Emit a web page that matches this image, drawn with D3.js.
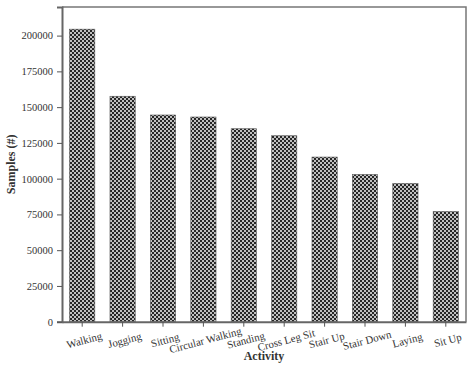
<!DOCTYPE html>
<html>
<head>
<meta charset="utf-8">
<script src="https://cdn.jsdelivr.net/npm/d3@7"></script>
<style>
  body { margin: 0; background: #fff; }
  svg text { font-family: "Liberation Serif", "DejaVu Serif", serif; fill: #333; }
</style>
</head>
<body>
<svg id="chart"></svg>
<script>
const width = 474;
const height = 367;

// activity classes and sample counts
const activities = ["Walking", "Jogging", "Sitting", "Circular Walking", "Standing",
  "Cross Leg Sit", "Stair Up", "Stair Down", "Laying", "Sit Up"];
const samples = [204500, 157600, 144500, 143100, 134900, 130000, 115100, 102900, 96600, 77000];
const yTicks = [0, 25000, 50000, 75000, 100000, 125000, 150000, 175000, 200000];

const margin = { top: 7, right: 10, bottom: 46, left: 62 };

const svg = d3.select("#chart")
  .attr("width", width)
  .attr("height", height);

// checker pattern for the bars
const defs = svg.append("defs");
const pat = defs.append("pattern")
  .attr("id", "checker")
  .attr("patternUnits", "userSpaceOnUse")
  .attr("width", 4)
  .attr("height", 4);
pat.append("rect").attr("width", 4).attr("height", 4).attr("fill", "#c0c0c0");
pat.append("rect").attr("width", 2).attr("height", 2).attr("fill", "#262626");
pat.append("rect").attr("x", 2).attr("y", 2).attr("width", 2).attr("height", 2).attr("fill", "#262626");

const x = d3.scaleBand()
  .domain(activities)
  .range([margin.left, width - margin.right + 2])
  .paddingInner(0.375)
  .paddingOuter(0.1875);

const y = d3.scaleLinear()
  .domain([0, 220000])
  .range([height - margin.bottom + 0.7, margin.top]);

// bars
svg.append("g")
  .selectAll("rect")
  .data(activities)
  .join("rect")
  .attr("x", d => x(d))
  .attr("y", (d, i) => y(samples[i]))
  .attr("width", x.bandwidth())
  .attr("height", (d, i) => y(0) - y(samples[i]))
  .attr("fill", "url(#checker)")
  .attr("stroke", "#555")
  .attr("stroke-width", 0.6);

// frame (top + right)
const x0 = margin.left, x1 = width - margin.right + 2;
svg.append("path")
  .attr("d", `M${x0},${y.range()[1]}H${x1}V${y(0)}`)
  .attr("fill", "none")
  .attr("stroke", "#777")
  .attr("stroke-width", 1.5);

// y axis
const yAxis = svg.append("g")
  .attr("transform", `translate(${x0},0)`)
  .call(d3.axisLeft(y).tickValues(yTicks).tickSize(5).tickPadding(4).tickFormat(d3.format("d")));
yAxis.select(".domain").attr("stroke", "#666").attr("stroke-width", 2);
yAxis.selectAll(".tick line").attr("stroke", "#555");
yAxis.selectAll("text").attr("font-size", 10.5).attr("fill", "#333");

// x axis
const xAxis = svg.append("g")
  .attr("transform", `translate(0,${y(0)})`)
  .call(d3.axisBottom(x).tickSize(5).tickSizeOuter(0));
xAxis.select(".domain").attr("stroke", "#666").attr("stroke-width", 2);
xAxis.selectAll(".tick line").attr("stroke", "#555");
xAxis.selectAll("text")
  .attr("font-size", 10.8)
  .attr("fill", "#333")
  .attr("text-anchor", "middle")
  .attr("dy", null)
  .attr("y", 0)
  .attr("transform", "translate(3,22) rotate(-15)");

// axis titles
svg.append("text")
  .attr("x", (x0 + x1) / 2)
  .attr("y", 360)
  .attr("text-anchor", "middle")
  .attr("font-size", 12)
  .attr("font-weight", "bold")
  .attr("fill", "#222")
  .text("Activity");

svg.append("text")
  .attr("transform", `translate(15,${(y(0) + y.range()[1]) / 2}) rotate(-90)`)
  .attr("text-anchor", "middle")
  .attr("font-size", 12)
  .attr("font-weight", "bold")
  .attr("fill", "#222")
  .text("Samples (#)");
</script>
</body>
</html>
